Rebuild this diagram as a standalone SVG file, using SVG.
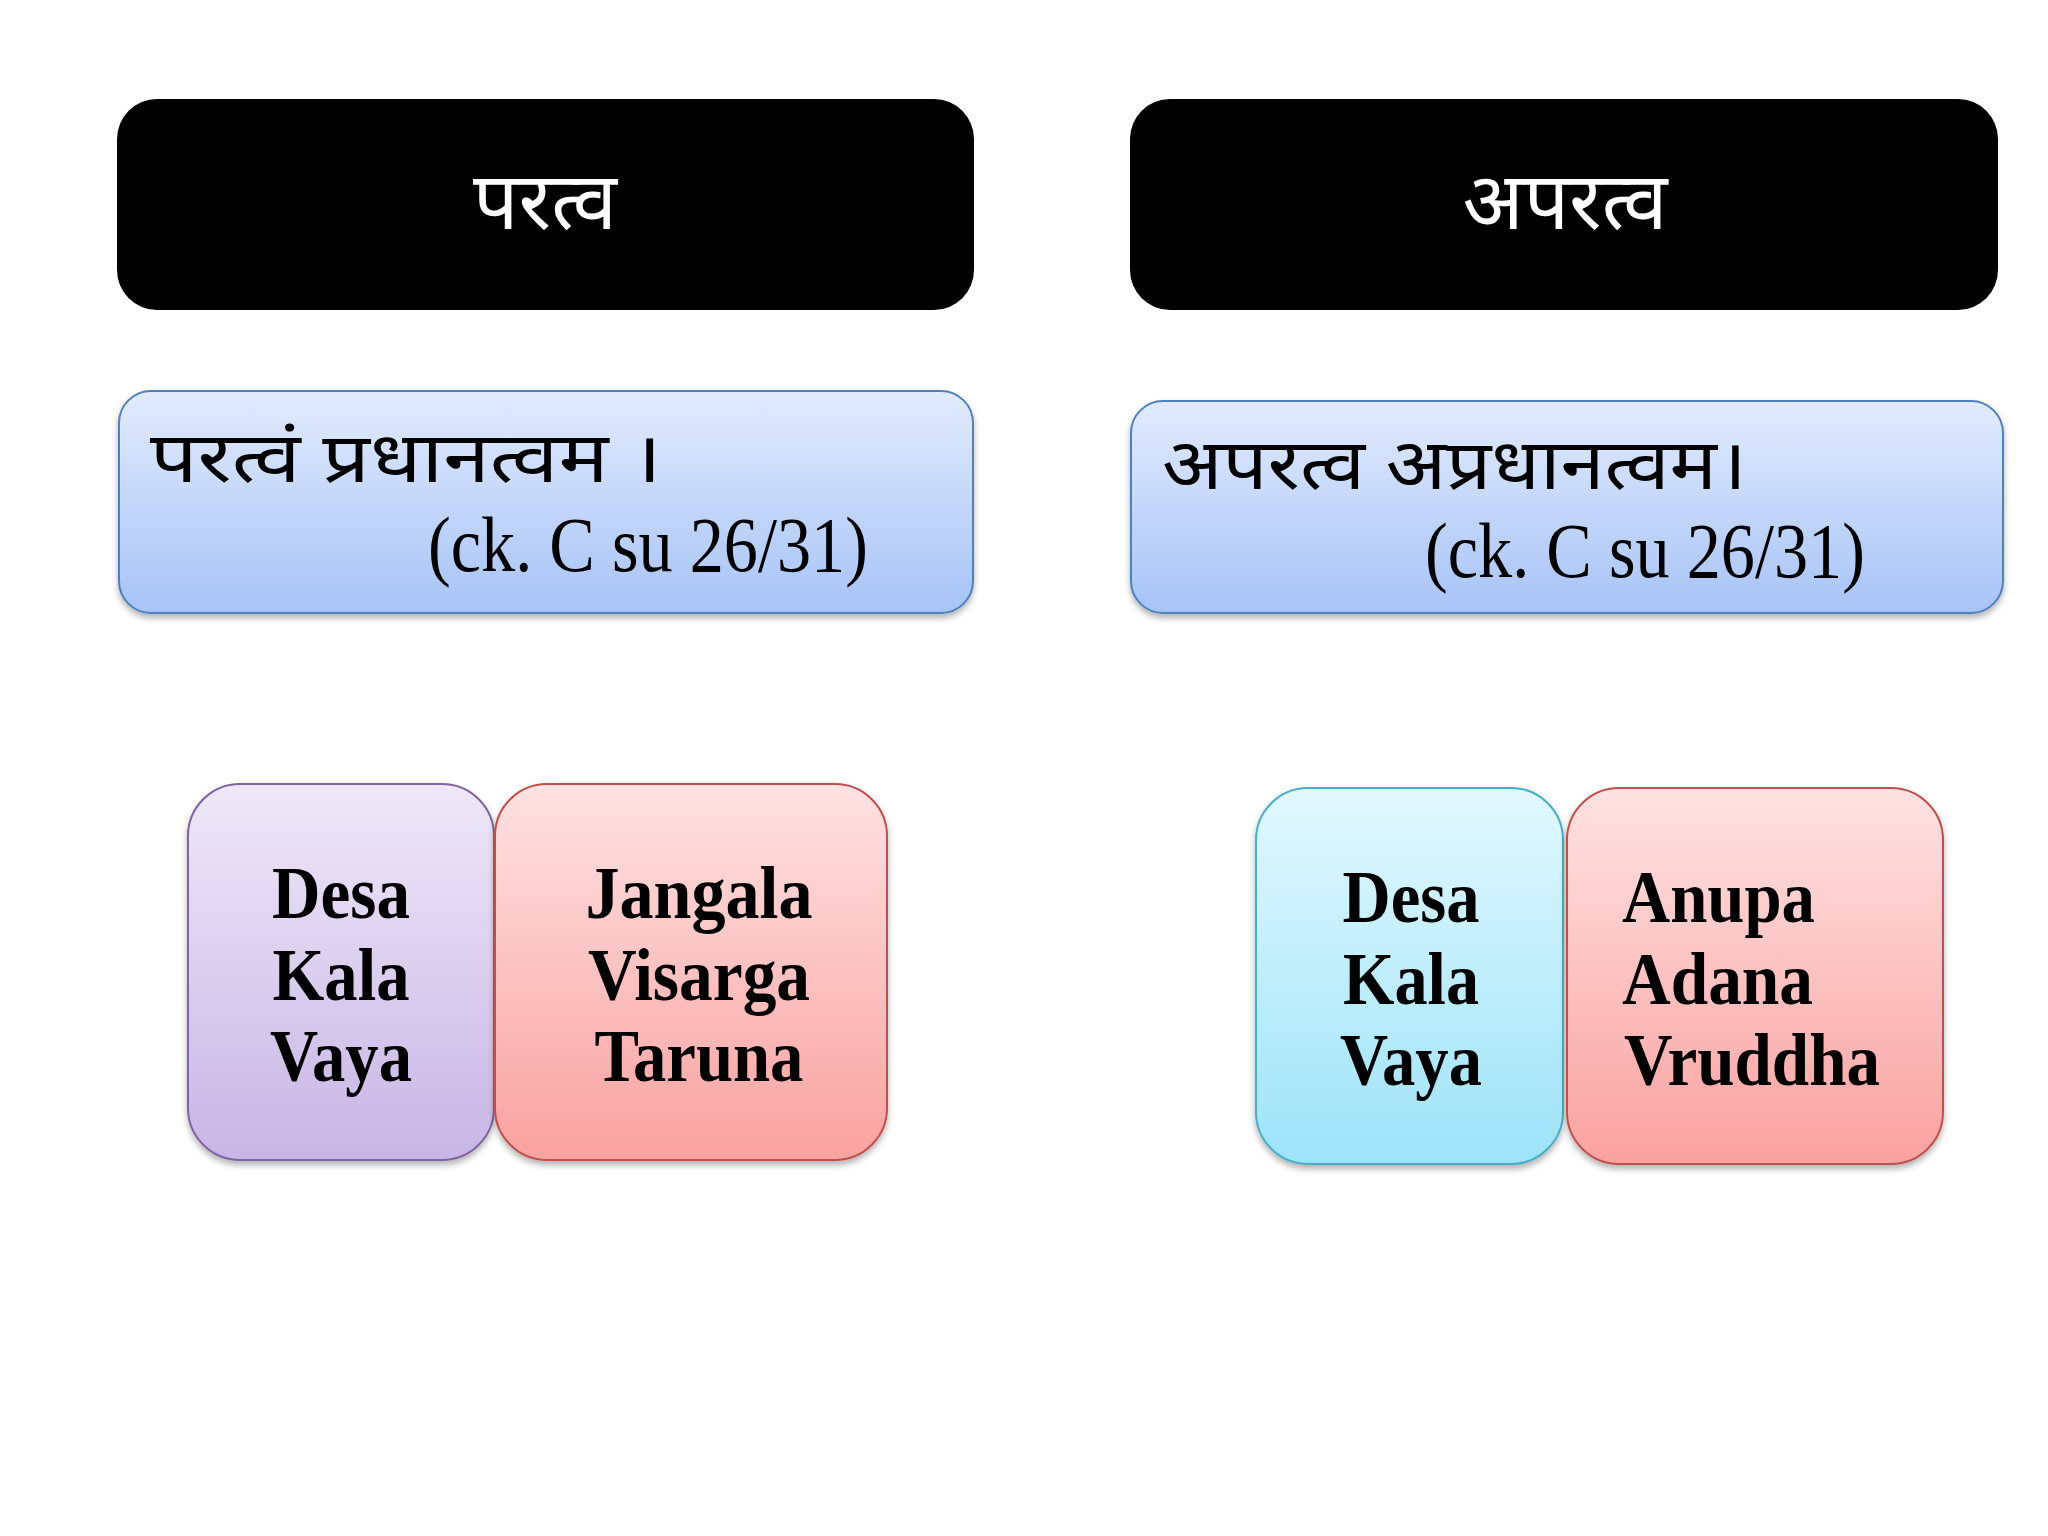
<svg xmlns="http://www.w3.org/2000/svg" width="2048" height="1536" viewBox="0 0 2048 1536">
<defs>
<linearGradient id="gBlue" x1="0" y1="0" x2="0" y2="1"><stop offset="0" stop-color="#e2ebfd"/><stop offset="1" stop-color="#a7c3f6"/></linearGradient>
<linearGradient id="gPurple" x1="0" y1="0" x2="0" y2="1"><stop offset="0" stop-color="#eee8f8"/><stop offset="1" stop-color="#c8b5e5"/></linearGradient>
<linearGradient id="gRed" x1="0" y1="0" x2="0" y2="1"><stop offset="0" stop-color="#fee2e2"/><stop offset="1" stop-color="#f9a2a0"/></linearGradient>
<linearGradient id="gCyan" x1="0" y1="0" x2="0" y2="1"><stop offset="0" stop-color="#e2f8fe"/><stop offset="1" stop-color="#9de3f8"/></linearGradient>
<filter id="sh" x="-10%" y="-10%" width="120%" height="125%"><feDropShadow dx="0" dy="4" stdDeviation="3" flood-color="#000" flood-opacity="0.3"/></filter>
</defs>
<style>
.hdr{fill:#000}
.hdrt{font-family:"Noto Sans","Noto Sans Devanagari",sans-serif;font-size:80px;fill:#fff;text-anchor:middle}
.dev{font-family:"Noto Sans","Noto Sans Devanagari",sans-serif;font-size:70px;fill:#000}
.ref{font-family:"Liberation Serif",serif;font-size:78px;fill:#000}
.bl{fill:url(#gBlue);stroke:#4f81bd;stroke-width:2;filter:url(#sh)}
.pu{fill:url(#gPurple);stroke:#8064a2;stroke-width:2;filter:url(#sh)}
.rd{fill:url(#gRed);stroke:#c0504d;stroke-width:2;filter:url(#sh)}
.cy{fill:url(#gCyan);stroke:#4bacc6;stroke-width:2;filter:url(#sh)}
.bt{font-family:"Liberation Serif",serif;font-weight:bold;font-size:75px;fill:#000}
</style>
<rect width="2048" height="1536" fill="#fff"/>
<g id="header-paratva">
<rect class="hdr" x="117" y="99" width="857" height="211" rx="40"/>
<text class="hdrt" x="545" y="229">परत्व</text>
</g>
<g id="header-aparatva">
<rect class="hdr" x="1130" y="99" width="868" height="211" rx="40"/>
<text class="hdrt" x="1565" y="229">अपरत्व</text>
</g>
<g id="def-paratva">
<rect class="bl" x="119" y="391" width="854" height="222" rx="32"/>
<text class="dev" x="150" y="482" textLength="512" lengthAdjust="spacingAndGlyphs">परत्वं  प्रधानत्वम  ।</text>
<text class="ref" x="428" y="571" textLength="440" lengthAdjust="spacingAndGlyphs">(ck. C su 26/31)</text>
</g>
<g id="def-aparatva">
<rect class="bl" x="1131" y="401" width="872" height="212" rx="32"/>
<text class="dev" x="1162" y="489" textLength="585" lengthAdjust="spacingAndGlyphs">अपरत्व  अप्रधानत्वम।</text>
<text class="ref" x="1425" y="577" textLength="440" lengthAdjust="spacingAndGlyphs">(ck. C su 26/31)</text>
</g>
<g id="para-factors">
<rect class="pu" x="188" y="784" width="306" height="376" rx="52"/>
<text class="bt" text-anchor="middle"><tspan x="341" y="918" textLength="138" lengthAdjust="spacingAndGlyphs">Desa</tspan><tspan x="341" y="1000" textLength="137" lengthAdjust="spacingAndGlyphs">Kala</tspan><tspan x="341" y="1081" textLength="142" lengthAdjust="spacingAndGlyphs">Vaya</tspan></text>
</g>
<g id="para-values">
<rect class="rd" x="495" y="784" width="392" height="376" rx="52"/>
<text class="bt" text-anchor="middle"><tspan x="699" y="918" textLength="227" lengthAdjust="spacingAndGlyphs">Jangala</tspan><tspan x="699" y="1000" textLength="222" lengthAdjust="spacingAndGlyphs">Visarga</tspan><tspan x="699" y="1081" textLength="209" lengthAdjust="spacingAndGlyphs">Taruna</tspan></text>
</g>
<g id="apara-factors">
<rect class="cy" x="1256" y="788" width="307" height="376" rx="52"/>
<text class="bt" text-anchor="middle"><tspan x="1411" y="922" textLength="137" lengthAdjust="spacingAndGlyphs">Desa</tspan><tspan x="1411" y="1004" textLength="136" lengthAdjust="spacingAndGlyphs">Kala</tspan><tspan x="1411" y="1085" textLength="142" lengthAdjust="spacingAndGlyphs">Vaya</tspan></text>
</g>
<g id="apara-values">
<rect class="rd" x="1567" y="788" width="376" height="376" rx="52"/>
<text class="bt"><tspan x="1622" y="922" textLength="193" lengthAdjust="spacingAndGlyphs">Anupa</tspan><tspan x="1622" y="1004" textLength="191" lengthAdjust="spacingAndGlyphs">Adana</tspan><tspan x="1624" y="1085" textLength="256" lengthAdjust="spacingAndGlyphs">Vruddha</tspan></text>
</g>
<g id="connectors"/>
</svg>
